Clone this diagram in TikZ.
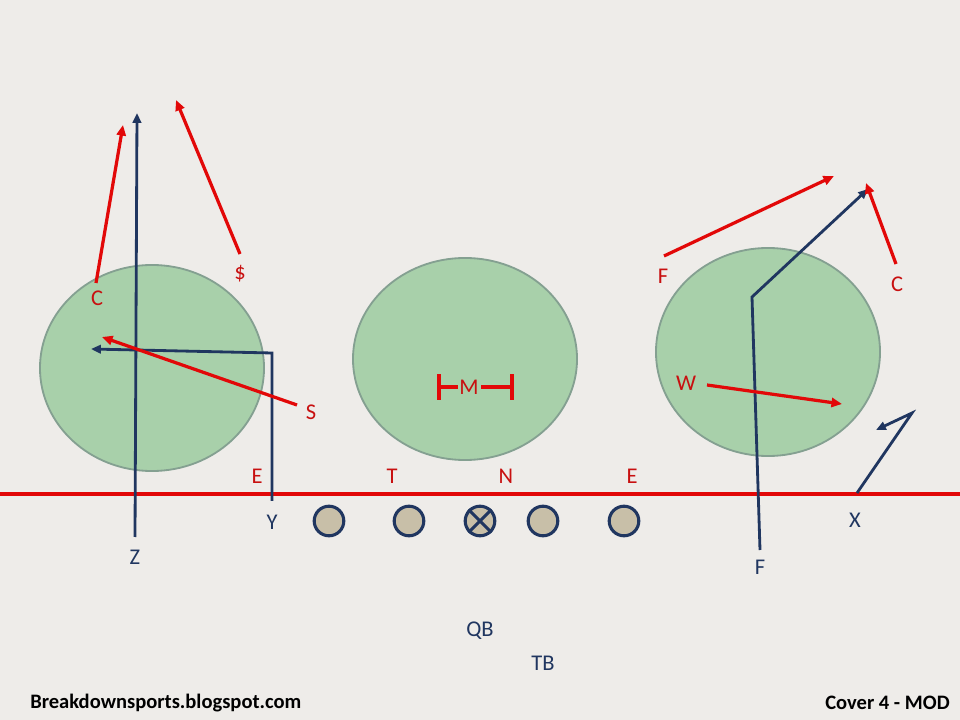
\documentclass[tikz,border=0pt]{standalone}
\usepackage{fontspec}
\setmainfont{Carlito}
\usepackage{tikz}
\usetikzlibrary{arrows,arrows.meta}
\usetikzlibrary{shapes.geometric}
\definecolor{bg}{RGB}{238,236,233}
\definecolor{navy}{RGB}{32,54,96}
\definecolor{defred}{RGB}{200,16,16}
\definecolor{linered}{RGB}{226,8,8}
\definecolor{zonegreen}{RGB}{168,208,170}
\definecolor{zoneline}{RGB}{132,160,145}
\definecolor{tan}{RGB}{200,191,168}

\begin{document}
\begin{tikzpicture}[x=0.025cm,y=-0.025cm]
      \tikzset{
        zone/.style={draw=zoneline, fill=zonegreen, ellipse, line width=1.3pt, minimum width=5.6cm},
        man/.style={draw=navy, circle, fill=tan, line width=2.2pt, minimum size=0.74cm, inner sep=0pt},
        off/.style={text=navy, font=\fontsize{16}{19}\selectfont, inner sep=0pt},
        def/.style={text=defred, font=\fontsize{16}{19}\selectfont, inner sep=0pt},
        route/.style={draw=navy, line width=2pt, -{Triangle[length=7pt,width=6pt]}},
        read/.style={draw=linered, line width=2.3pt, -{Triangle[length=7.5pt,width=6.5pt]}},
        foot/.style={font=\bfseries\fontsize{14.6}{17}\selectfont, text=black, inner sep=0pt},
      }
      \fill [bg] (0,0) rectangle (960,720);
      \useasboundingbox (0,0) rectangle (960,720);

      % zones
      \node [zone, minimum height=5.15cm] (zoneL) at (152,368) {};
      \node [zone, minimum height=5.05cm] (zoneM) at (465,359) {};
      \node [zone, minimum height=5.2cm] (zoneR) at (768,352) {};

      % line of scrimmage
      \coordinate (losL) at (0,494);
      \coordinate (losR) at (960,494);
      \draw [linered, line width=2.4pt] (losL)--(losR);

      % offensive line
      \node [man] (lt) at (329,521) {};
      \node [man] (lg) at (409,521) {};
      \node [man] (ctr) at (480,521) {};
      \node [man] (rg) at (543,521) {};
      \node [man] (rt) at (624,521) {};
      \draw [navy, line width=2.2pt] (ctr.45)--(ctr.225) (ctr.135)--(ctr.-45);

      % offense labels
      \node [off] (Z) at (135,557) {Z};
      \node [off] (Y) at (272,522) {Y};
      \node [off] (F) at (760,567) {F};
      \node [off] (X) at (855,520) {X};
      \node [off] (QB) at (480,631) {QB};
      \node [off] (TB) at (543,663) {TB};

      % defense labels
      \node [def] (cL) at (97,298) {C};
      \node [def] (dol) at (240,274) {\$};
      \node [def] (S) at (311,412) {S};
      \node [def] (M) at (469,387) {M};
      \node [def] (fR) at (663,276) {F};
      \node [def] (cR) at (897,284) {C};
      \node [def] (W) at (686,383) {W};
      \node [def] (eL) at (257,476) {E};
      \node [def] (T) at (392,476) {T};
      \node [def] (N) at (506,476) {N};
      \node [def] (eR) at (632,476) {E};

      % route points
      \coordinate (zS) at (135,537);
      \coordinate (zE) at (137,113);
      \coordinate (yS) at (272,501);
      \coordinate (yB) at (272,353);
      \coordinate (yE) at (91,349);
      \coordinate (fS) at (760,550);
      \coordinate (fB) at (752,297);
      \coordinate (fE) at (868,189);
      \coordinate (xS) at (857,493);
      \coordinate (xB) at (912,413);
      \coordinate (xE) at (876,430);

      \path [route] (zS)--(zE);
      \path [route] (yS)--(yB)--(yE);
      \path [route] (fS)--(fB)--(fE);
      \path [route] (xS)--(xB)--(xE);

      % drops
      \coordinate (cLS) at (96,283);
      \coordinate (cLE) at (123,125);
      \coordinate (dolS) at (240,254);
      \coordinate (dolE) at (176,100);
      \coordinate (sS) at (297,405);
      \coordinate (sE) at (102,337);
      \coordinate (fRS) at (664,256);
      \coordinate (fRE) at (834,176);
      \coordinate (cRS) at (896,264);
      \coordinate (cRE) at (866,183);
      \coordinate (wS) at (707,385);
      \coordinate (wE) at (842,404);

      \path [read] (cLS)--(cLE);
      \path [read] (dolS)--(dolE);
      \path [read] (sS)--(sE);
      \path [read] (fRS)--(fRE);
      \path [read] (cRS)--(cRE);
      \path [read] (wS)--(wE);

      % mike
      \coordinate (mL) at (439,387);
      \coordinate (mR) at (512,387);
      \draw [linered, line width=2.3pt] (mL)--([xshift=-1pt]M.west) ([xshift=1.5pt]M.east)--(mR);
      \draw [linered, line width=2.3pt] ([yshift=9]mL)--([yshift=-9]mL) ([yshift=9]mR)--([yshift=-9]mR);

      % footer
      \node [foot, anchor=west] (site) at (30,703) {Breakdownsports.blogspot.com};
      \node [foot, anchor=east] (title) at (950,703) {Cover 4 - MOD};
\end{tikzpicture}
\end{document}
